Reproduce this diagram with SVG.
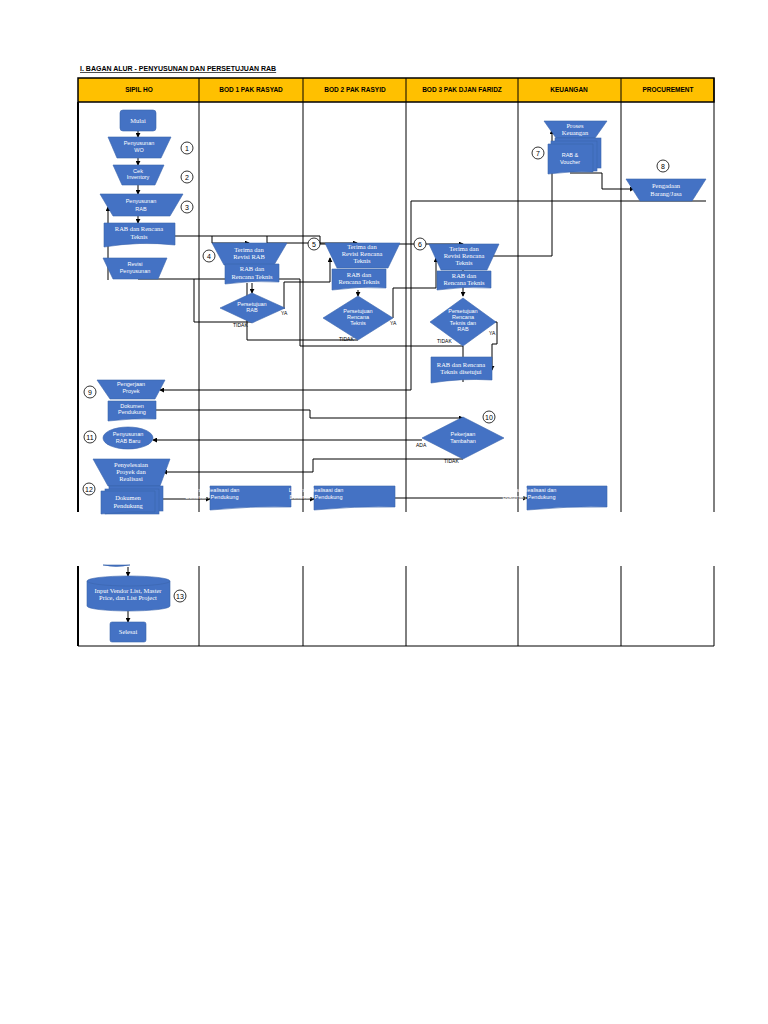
<svg xmlns="http://www.w3.org/2000/svg" width="768" height="1024" viewBox="0 0 768 1024">
<style>
.s{fill:#4472C4;stroke:#3a64ad;stroke-width:0.6}
.t{fill:#fff;font-family:"Liberation Sans",sans-serif;font-size:5.5px;text-anchor:middle}
.tf{fill:#fff;font-family:"Liberation Serif",serif;font-size:6.5px;text-anchor:middle}
.h{font-family:"Liberation Sans",sans-serif;font-size:6.5px;font-weight:bold;text-anchor:middle;fill:#000}
.n{fill:#fff;stroke:#000;stroke-width:0.8}
.nt{font-family:"Liberation Sans",sans-serif;font-size:7px;text-anchor:middle;fill:#000}
.lb{font-family:"Liberation Sans",sans-serif;font-size:5px;fill:#000}
.c{fill:none;stroke:#000;stroke-width:1}
.g{stroke:#000;stroke-width:1}
</style>
<defs><marker id="a" viewBox="0 0 6 6" refX="5" refY="3" markerWidth="5" markerHeight="5" orient="auto"><path d="M0,0L6,3L0,6z" fill="#000"/></marker></defs>
<rect width="768" height="1024" fill="#fff"/>
<text x="80" y="71" font-family="Liberation Sans,sans-serif" font-size="7" font-weight="bold" text-decoration="underline">I.   BAGAN ALUR - PENYUSUNAN DAN PERSETUJUAN RAB</text>
<g id="table">
<rect x="78" y="78" width="636" height="24" fill="#FFC000" stroke="#000" stroke-width="1.5"/>
<text class="h" x="139" y="92">SIPIL HO</text>
<text class="h" x="251" y="92">BOD 1 PAK RASYAD</text>
<text class="h" x="355" y="92">BOD 2 PAK RASYID</text>
<text class="h" x="462" y="92">BOD 3 PAK DJAN FARIDZ</text>
<text class="h" x="569" y="92">KEUANGAN</text>
<text class="h" x="668" y="92">PROCUREMENT</text>
<path class="g" d="M78,102V512M199,78V512M303,78V512M406,78V512M518,78V512M621,78V512M714,78V512M78,566V646M199,566V646M303,566V646M406,566V646M518,566V646M621,566V646M714,566V646M78,646H714" stroke-width="1"/>
<path d="M78,102V512M78,566V646" stroke="#000" stroke-width="2"/>
</g>
<g id="connectors">
<path class="c" d="M138,131V137" marker-end="url(#a)"/>
<path class="c" d="M138,158V165" marker-end="url(#a)"/>
<path class="c" d="M138,185V194" marker-end="url(#a)"/>
<path class="c" d="M138,216V223" marker-end="url(#a)"/>
<path class="c" d="M175,236H320V244H463" marker-end="url(#a)"/>
<path class="c" d="M212,236V243H249" marker-end="url(#a)"/>
<path class="c" d="M267,236V243H357" marker-end="url(#a)"/>
<path class="c" d="M108,280V207" marker-end="url(#a)"/>
<path class="c" d="M138,279H300V346H463"/>
<path class="c" d="M252,322H194V279"/>
<path class="c" d="M252,283V293" marker-end="url(#a)"/>
<path class="c" d="M284,309V282H330V258" marker-end="url(#a)"/>
<path class="c" d="M358,290V296" marker-end="url(#a)"/>
<path class="c" d="M358,340H247V283"/>
<path class="c" d="M393,318V288H436V258" marker-end="url(#a)"/>
<path class="c" d="M463,270V296" marker-end="url(#a)"/>
<path class="c" d="M463,346V382"/>
<path class="c" d="M494,322H497V344H492V370" marker-end="url(#a)"/>
<path class="c" d="M490,256H552V130" marker-end="url(#a)"/>
<path class="c" d="M570,173H602V189H634" marker-end="url(#a)"/>
<path class="c" d="M706,201H411V390H160" marker-end="url(#a)"/>
<path class="c" d="M156,410H310V418H463" marker-end="url(#a)"/>
<path class="c" d="M422,440H153" stroke="#888" marker-end="url(#a)"/>
<path class="c" d="M463,459H313V472H163" marker-end="url(#a)"/>
<path class="c" d="M163,499H210" stroke="#aaa" marker-end="url(#a)"/>
<path class="c" d="M291,499H314" marker-end="url(#a)"/>
<path class="c" d="M395,498H527" stroke="#555" marker-end="url(#a)"/>
<path class="c" d="M128,567V576" marker-end="url(#a)"/>
<path class="c" d="M128,611V622" marker-end="url(#a)"/>
</g>
<g id="mulai"><rect class="s" x="120" y="110" width="36" height="21" rx="3"/><text class="tf" x="138" y="123">Mulai</text></g>
<g id="wo"><path class="s" d="M108,137H171L161,158H117z"/><text class="t" x="139" y="145">Penyusunan</text><text class="t" x="139" y="152">WO</text></g>
<g id="cek"><path class="s" d="M113,165H164L155,185H122z"/><text class="t" x="138" y="173">Cek</text><text class="t" x="138" y="179">Inventory</text></g>
<g id="prab"><path class="s" d="M100,194H183L170,216H113z"/><text class="t" x="141" y="203">Penyusunan</text><text class="t" x="141" y="211">RAB</text></g>
<g id="docrab"><path class="s" d="M104,223H175V245Q140,241 104,247z"/><text class="tf" x="139" y="231">RAB dan Rencana</text><text class="tf" x="139" y="239">Teknis</text></g>
<g id="revisi"><path class="s" d="M103,258H167L158,279H113z"/><text class="t" x="135" y="266">Revisi</text><text class="t" x="135" y="273">Penyusunan</text></g>
<g id="n1"><circle class="n" cx="187" cy="148" r="6"/><text class="nt" x="187" y="150.5">1</text></g>
<g id="n2"><circle class="n" cx="187" cy="177" r="6"/><text class="nt" x="187" y="179.5">2</text></g>
<g id="n3"><circle class="n" cx="187" cy="207" r="6"/><text class="nt" x="187" y="209.5">3</text></g>
<g id="terima1"><path class="s" d="M212,243H287L274,265H224z"/><text class="tf" x="249" y="252">Terima dan</text><text class="tf" x="249" y="259">Revisi RAB</text></g>
<g id="n4"><circle class="n" cx="209" cy="256" r="6"/><text class="nt" x="209" y="258.5">4</text></g>
<g id="doc1"><path class="s" d="M225,264H279V282Q252,280 225,284z"/><text class="tf" x="252" y="271">RAB dan</text><text class="tf" x="252" y="279">Rencana Teknis</text></g>
<g id="dia1"><path class="s" d="M252,293L285,308L252,323L220,308z"/><text class="t" x="252" y="306">Persetujuan</text><text class="t" x="252" y="312">RAB</text></g>
<text class="lb" x="281" y="315">YA</text><text class="lb" x="233" y="327">TIDAK</text>
<g id="n5"><circle class="n" cx="314" cy="244" r="6"/><text class="nt" x="314" y="246.5">5</text></g>
<g id="terima2"><path class="s" d="M325,243H400L388,268H337z"/><text class="tf" x="362" y="249">Terima dan</text><text class="tf" x="362" y="256">Revisi Rencana</text><text class="tf" x="362" y="263">Teknis</text></g>
<g id="doc2"><path class="s" d="M332,269H386V288Q359,286 332,290z"/><text class="tf" x="359" y="277">RAB dan</text><text class="tf" x="359" y="284">Rencana Teknis</text></g>
<g id="dia2"><path class="s" d="M358,296L393,318L358,340L323,318z"/><text class="t" x="358" y="313">Persetujuan</text><text class="t" x="358" y="319">Rencana</text><text class="t" x="358" y="325">Teknis</text></g>
<text class="lb" x="390" y="325">YA</text><text class="lb" x="339" y="341">TIDAK</text>
<g id="n6"><circle class="n" cx="420" cy="244" r="6"/><text class="nt" x="420" y="246.5">6</text></g>
<g id="terima3"><path class="s" d="M429,244H499L487,270H441z"/><text class="tf" x="464" y="251">Terima dan</text><text class="tf" x="464" y="258">Revisi Rencana</text><text class="tf" x="464" y="265">Teknis</text></g>
<g id="doc3"><path class="s" d="M437,271H491V288Q464,286 437,290z"/><text class="tf" x="464" y="278">RAB dan</text><text class="tf" x="464" y="285">Rencana Teknis</text></g>
<g id="dia3"><path class="s" d="M463,298L496,322L463,346L430,322z"/><text class="t" x="463" y="313">Persetujuan</text><text class="t" x="463" y="319">Rencana</text><text class="t" x="463" y="325">Teknis dan</text><text class="t" x="463" y="331">RAB</text></g>
<text class="lb" x="489" y="335">YA</text><text class="lb" x="437" y="343">TIDAK</text>
<g id="docok"><path class="s" d="M431,357H492V380Q461,378 431,383z"/><text class="tf" x="461" y="367">RAB dan Rencana</text><text class="tf" x="461" y="374">Teknis disetujui</text></g>
<g id="keu"><path class="s" d="M544,121H607L595,138H556z"/><text class="tf" x="575" y="128">Proses</text><text class="tf" x="575" y="135">Keuangan</text></g>
<g id="voucher"><rect class="s" x="555" y="138" width="46" height="30"/><rect class="s" x="551" y="141" width="46" height="30"/><path class="s" d="M548,144H593V172Q570,171 548,174z"/><text class="t" x="570" y="157">RAB &amp;</text><text class="t" x="570" y="164">Voucher</text></g>
<g id="n7"><circle class="n" cx="538" cy="153" r="6"/><text class="nt" x="538" y="155.5">7</text></g>
<g id="n8"><circle class="n" cx="663" cy="166" r="6"/><text class="nt" x="663" y="168.5">8</text></g>
<g id="pengadaan"><path class="s" d="M626,179H706L692,201H640z"/><text class="tf" x="666" y="188">Pengadaan</text><text class="tf" x="666" y="196">Barang/Jasa</text></g>
<g id="pengerjaan"><path class="s" d="M97,380H165L155,399H110z"/><text class="t" x="131" y="386">Pengerjaan</text><text class="t" x="131" y="393">Proyek</text></g>
<g id="n9"><circle class="n" cx="90" cy="392" r="6"/><text class="nt" x="90" y="394.5">9</text></g>
<g id="dokpend"><path class="s" d="M108,401H156V419Q132,418 108,421z"/><text class="t" x="132" y="408">Dokumen</text><text class="t" x="132" y="414">Pendukung</text></g>
<g id="dia4"><path class="s" d="M463,417L504,438L463,459L422,438z"/><text class="t" x="463" y="436">Pekerjaan</text><text class="t" x="463" y="443">Tambahan</text></g>
<g id="n10"><circle class="n" cx="489" cy="417" r="6"/><text class="nt" x="489" y="419.5">10</text></g>
<text class="lb" x="416" y="447">ADA</text><text class="lb" x="444" y="463">TIDAK</text>
<g id="rabbaru"><ellipse class="s" cx="128" cy="438" rx="25" ry="11"/><text class="t" x="128" y="436">Penyusunan</text><text class="t" x="128" y="443">RAB Baru</text></g>
<g id="n11"><circle class="n" cx="90" cy="437" r="6"/><text class="nt" x="90" y="439.5">11</text></g>
<g id="penyelesaian"><path class="s" d="M93,459H170L160,486H108z"/><text class="tf" x="131" y="467">Penyelesaian</text><text class="tf" x="131" y="474">Proyek dan</text><text class="tf" x="131" y="481">Realisasi</text></g>
<g id="n12"><circle class="n" cx="89" cy="489" r="6"/><text class="nt" x="89" y="491.5">12</text></g>
<g id="dokpend2"><rect class="s" x="109" y="486" width="54" height="25"/><rect class="s" x="105" y="489" width="54" height="25"/><path class="s" d="M101,491H155V512Q128,511 101,514z"/><text class="tf" x="128" y="500">Dokumen</text><text class="tf" x="128" y="508">Pendukung</text></g>
<g id="lap1"><path class="s" d="M210,486H291V507Q250,506 210,510z"/><text class="t" x="212" y="492" text-anchor="start" font-size="6.5">Laporan Realisasi dan</text><text class="t" x="212" y="499" text-anchor="start" font-size="6.5">Dokumen Pendukung</text></g>
<g id="lap2"><path class="s" d="M314,486H395V507Q354,506 314,510z"/><text class="t" x="316" y="492" text-anchor="start" font-size="6.5">Laporan Realisasi dan</text><text class="t" x="316" y="499" text-anchor="start" font-size="6.5">Dokumen Pendukung</text></g>
<g id="lap3"><path class="s" d="M527,486H607V507Q567,506 527,510z"/><text class="t" x="529" y="492" text-anchor="start" font-size="6.5">Laporan Realisasi dan</text><text class="t" x="529" y="499" text-anchor="start" font-size="6.5">Dokumen Pendukung</text></g>
<g id="cut"><path class="s" d="M103,565Q116,568 130,565z"/></g>
<g id="vendor"><path class="s" d="M87,581A41.5,5 0 0 1 170,581V606A41.5,5 0 0 1 87,606z"/><path d="M87,581A41.5,5 0 0 0 170,581" fill="none" stroke="#3a64ad" stroke-width="0.6"/><text class="tf" x="128" y="593">Input Vendor List, Master</text><text class="tf" x="128" y="600">Price, dan List Project</text></g>
<g id="n13"><circle class="n" cx="180" cy="596" r="6"/><text class="nt" x="180" y="598.5">13</text></g>
<g id="selesai"><rect class="s" x="110" y="622" width="36" height="20" rx="2"/><text class="tf" x="128" y="634">Selesai</text></g>
</svg>
